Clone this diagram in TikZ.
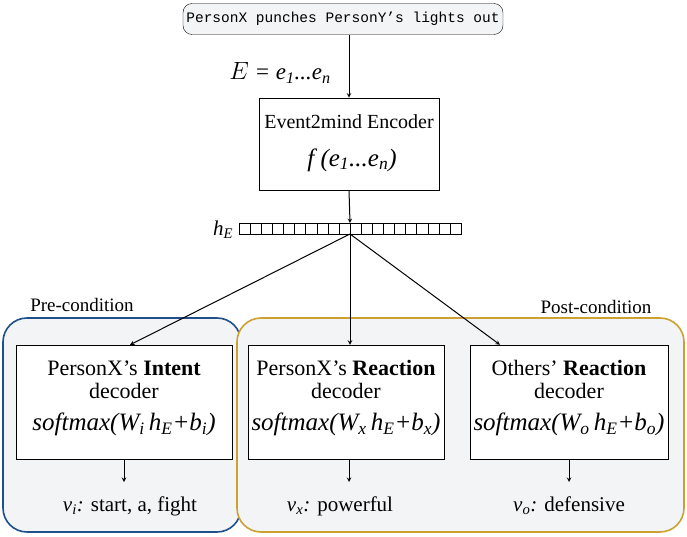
\documentclass[tikz,border=0pt]{standalone}
\usepackage{fontspec}
\setmainfont{Liberation Serif}
\setmonofont{Liberation Mono}
\begin{document}
\begin{tikzpicture}[x=1pt,y=-1pt,
  box/.style={draw,thick,fill=white,inner sep=0pt},
  arr/.style={-{stealth},line width=1pt},
  lbl/.style={font=\fontsize{19}{22}\selectfont}]
\useasboundingbox (0,0) rectangle (687,537);
\definecolor{bluec}{RGB}{30,80,140}
\definecolor{goldc}{RGB}{205,160,50}
\definecolor{bgc}{RGB}{243,244,246}
\node[draw,rounded corners=9pt,fill=bgc,minimum width=285pt,minimum height=31pt,font=\ttfamily\fontsize{14.5}{18}\selectfont] (top) at (343,19) {PersonX punches PersonY’s lights out};
\node[font=\itshape\fontsize{23}{26}\selectfont] (E) at (280,73) {$E$ = e\textsubscript{1}...e\textsubscript{n}};
\node[box,minimum width=180pt,minimum height=92pt] (enc) at (349,144) {};
\node[font=\fontsize{20}{24}\selectfont] (encT) at (349,122) {Event2mind Encoder};
\node[font=\itshape\fontsize{25}{28}\selectfont] (encF) at (352,160) {f (e\textsubscript{1}...e\textsubscript{n})};
\draw[arr] (top.south -| enc.north) -- (enc.north);
\node[font=\itshape\fontsize{21}{24}\selectfont] (hE) at (223,230) {h\textsubscript{E}};
\foreach \i in {0,...,19}{\draw (239+\i*11.1,223) rectangle (239+\i*11.1+11.1,234);}
\coordinate (bar) at (350,234);
\draw[arr] (enc.south) -- (350,223);
\node[lbl] (pre) at (82,305) {Pre-condition};
\node[lbl] (post) at (596,307) {Post-condition};
\draw[bluec,line width=1.6pt,rounded corners=24pt,fill=bgc] (3,318) rectangle (241,532);
\draw[goldc,line width=1.6pt,rounded corners=24pt,fill=bgc] (237,318) rectangle (684,532);
\node[box,thin,minimum width=216pt,minimum height=114pt] (d1) at (124,402) {};
\node[box,thin,minimum width=196pt,minimum height=114pt] (d2) at (346,402) {};
\node[box,thin,minimum width=198pt,minimum height=114pt] (d3) at (569,402) {};
\foreach \n/\a/\b/\s in {d1/PersonX’s /Intent/i, d2/PersonX’s /Reaction/x, d3/Others’ /Reaction/o}{
  \node[font=\fontsize{22}{23}\selectfont,align=center] at ([yshift=-35]\n.north) {\a\textbf{\b}\\decoder};
  \node[font=\itshape\fontsize{25}{28}\selectfont] at ([yshift=-80]\n.north) {softmax(W\textsubscript{\s}\,h\textsubscript{E}+b\textsubscript{\s})};
}
\draw[arr] (bar) -- (d1.north -| 130,0);
\draw[arr] (bar) -- (d2.north -| 350,0);
\draw[arr] (bar) -- (d3.north -| 500,0);
\node[font=\fontsize{21}{24}\selectfont] (o1) at (130,506) {\textit{v\textsubscript{i}:} start, a, fight};
\node[font=\fontsize{21}{24}\selectfont] (o2) at (340,506) {\textit{v\textsubscript{x}:} powerful};
\node[font=\fontsize{21}{24}\selectfont] (o3) at (569,506) {\textit{v\textsubscript{o}:} defensive};
\draw[arr] (d1.south) -- (124,482);
\draw[arr] (d2.south -| 349,0) -- (349,482);
\draw[arr] (d3.south) -- (569,482);
\end{tikzpicture}
\end{document}
